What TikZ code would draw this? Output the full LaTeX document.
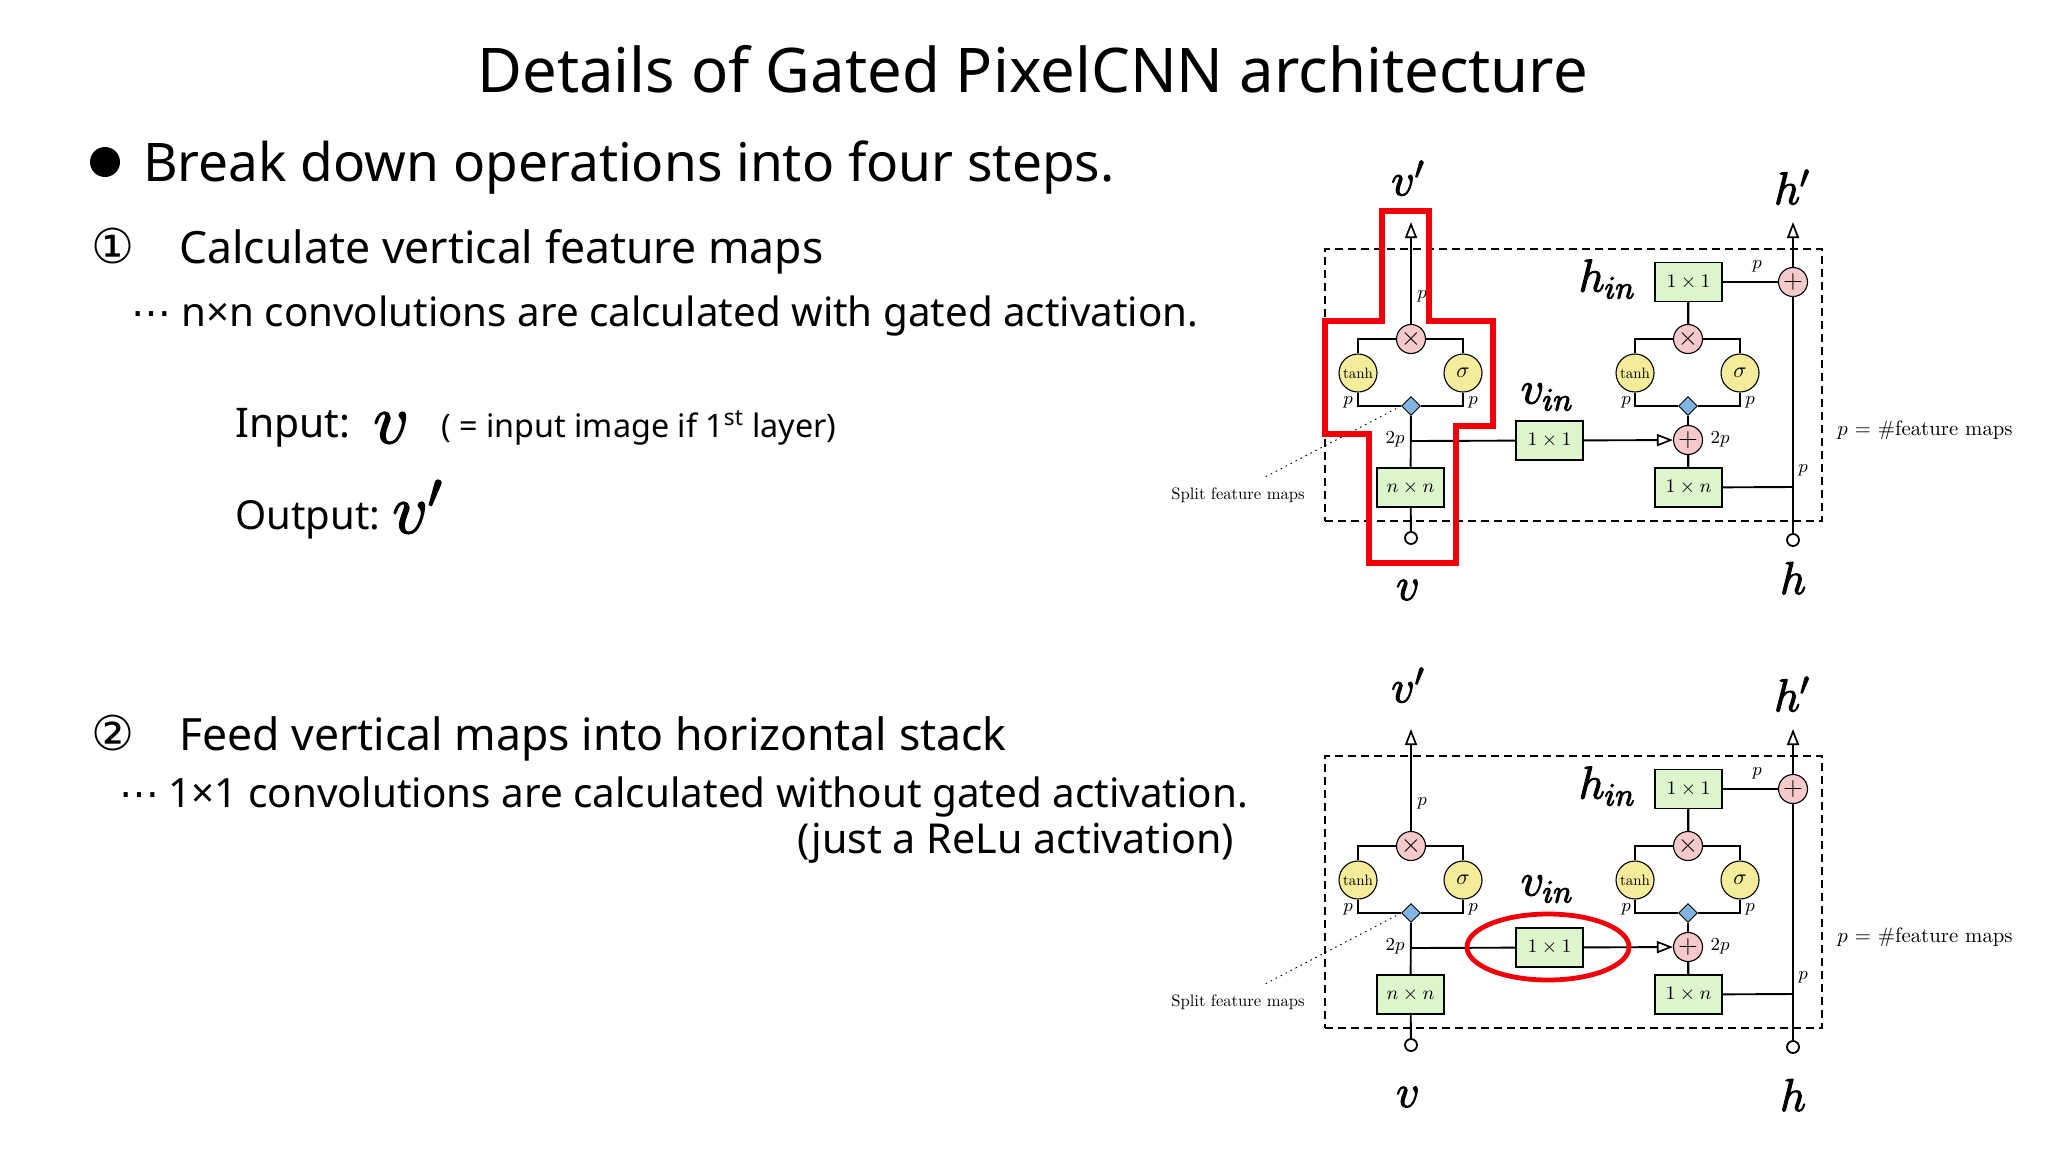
\RequirePackage{fix-cm}
\documentclass[tikz,border=0pt]{standalone}
\usepackage{fontspec}
\usetikzlibrary{shapes.geometric,arrows.meta}
\newfontfamily\slidefont{Noto Sans}
\newfontfamily\symfont{DejaVu Sans}
\definecolor{nodepink}{HTML}{F6C9CB}
\definecolor{nodeyellow}{HTML}{F3EC9A}
\definecolor{nodegreen}{HTML}{DDF5CC}
\definecolor{nodeblue}{HTML}{82B4E2}
\definecolor{markred}{HTML}{F00008}
\newcommand{\fsz}[1]{\fontsize{#1}{#1}\selectfont}
\newcommand{\heavy}[2][0.55]{\special{pdf:code q 2 Tr #1 w}#2\special{pdf:code Q}}
\tikzset{
  x=0.5pt,y=-0.5pt,
  wire/.style={draw=black,line width=0.95pt},
  txt/.style={anchor=base west,inner sep=0pt,font=\slidefont},
  opbox/.style={draw=black,line width=0.6pt,fill=nodegreen,minimum width=33.5pt,minimum height=19.5pt,inner sep=0pt,font=\fsz{9.6}},
  opcirc/.style={circle,draw=black,line width=0.55pt,fill=nodepink,minimum size=14.5pt,inner sep=0pt},
  gatecirc/.style={circle,draw=black,line width=0.55pt,fill=nodeyellow,minimum size=19pt,inner sep=0pt},
  splitd/.style={diamond,aspect=1,draw=black,line width=0.4pt,fill=nodeblue,minimum size=9.4pt,inner sep=0pt},
  termc/.style={circle,draw=black,line width=0.9pt,fill=white,minimum size=6pt,inner sep=0pt},
  lab/.style={inner sep=0pt,font=\fsz{9.2}},
  biglab/.style={inner sep=0pt,font=\fsz{23}},
  arrowup/.style={-{Triangle[open,fill=white,length=8pt,width=6pt,line width=0.85pt]}},
}
\newcommand{\gatedblock}[4]{%
  % #1 prefix, #2 y offset, #3 y of the h label, #4 y of the v_in label
  \begin{scope}[shift={(0,#2)}]
    \node[draw=black,line width=1.05pt,dash pattern=on 4.2pt off 2.3pt,minimum width=248.5pt,minimum height=136pt,inner sep=0pt] (#1frame) at (1573.5,385) {};
    % vertical stack
    \node[termc] (#1vin) at (1411,538) {};
    \node[opbox] (#1nn) at (1410.5,487.5) {$n\times n$};
    \coordinate (#1vj) at (1411,441);
    \node[splitd] (#1vd) at (1411,406) {};
    \node[gatecirc] (#1vt) at (1358,373) {\scalebox{0.75}{tanh}};
    \node[gatecirc,font=\fsz{11}] (#1vs) at (1463,373) {$\sigma$};
    \node[opcirc] (#1vm) at (1411,339) {\fsz{13}$\times$};
    \coordinate (#1vout) at (1411,222);
    % link
    \node[opbox] (#1link) at (1549.5,440.5) {$1\times 1$};
    % horizontal stack
    \node[opbox] (#1on) at (1688.5,487.5) {$1\times n$};
    \node[opcirc] (#1ha) at (1688,440) {\fsz{13}$+$};
    \node[splitd] (#1hd) at (1688,406) {};
    \node[gatecirc] (#1ht) at (1635,373) {\scalebox{0.75}{tanh}};
    \node[gatecirc,font=\fsz{11}] (#1hs) at (1740,373) {$\sigma$};
    \node[opcirc] (#1hm) at (1688,339) {\fsz{13}$\times$};
    \node[opbox] (#1oo) at (1688.5,282) {$1\times 1$};
    \node[opcirc] (#1hp) at (1793,282) {\fsz{13}$+$};
    \node[termc] (#1hin) at (1793,540) {};
    \coordinate (#1hj) at (1793,487);
    \coordinate (#1hout) at (1793,222);
    % connectors
    \draw[wire] (#1vin) -- (#1nn);
    \draw[wire] (#1nn) -- (#1vd);
    \draw[wire,line width=1.1pt] (#1vd.west) -| (#1vt.south);
    \draw[wire,line width=1.1pt] (#1vd.east) -| (#1vs.south);
    \draw[wire,line width=1.1pt] (#1vt.north) |- (#1vm.west);
    \draw[wire,line width=1.1pt] (#1vs.north) |- (#1vm.east);
    \draw[wire,arrowup] (#1vm) -- (#1vout);
    \draw[wire] (#1vj) -- (#1link);
    \draw[wire,-{Triangle[open,fill=white,length=8pt,width=6pt,line width=0.85pt]}] (#1link) -- (#1ha);
    \draw[wire,line width=1.1pt] (#1on) -- (#1ha);
    \draw[wire] (#1ha) -- (#1hd);
    \draw[wire,line width=1.1pt] (#1hd.west) -| (#1ht.south);
    \draw[wire,line width=1.1pt] (#1hd.east) -| (#1hs.south);
    \draw[wire,line width=1.1pt] (#1ht.north) |- (#1hm.west);
    \draw[wire,line width=1.1pt] (#1hs.north) |- (#1hm.east);
    \draw[wire,line width=1.1pt] (#1hm) -- (#1oo);
    \draw[wire] (#1oo) -- (#1hp);
    \draw[wire,line width=1.1pt] (#1hin) -- (#1hp);
    \draw[wire] (#1on) -- (#1hj);
    \draw[wire,arrowup] (#1hp) -- (#1hout);
    % dotted leader
    \coordinate (#1lead) at (1265,477);
    \draw[black,line width=0.45pt,dash pattern=on 0.8pt off 2pt] (#1vd.west) -- (#1lead);
    % labels
    \node[lab] (#1l1) at (1422,296) {$p$};
    \node[lab] (#1l2) at (1348,402) {$p$};
    \node[lab] (#1l3) at (1473,402) {$p$};
    \node[lab] (#1l4) at (1395,439) {$2p$};
    \node[lab] (#1l5) at (1626,402) {$p$};
    \node[lab] (#1l6) at (1750,402) {$p$};
    \node[lab] (#1l7) at (1757,266) {$p$};
    \node[lab] (#1l8) at (1720,439) {$2p$};
    \node[lab] (#1l9) at (1803,470) {$p$};
    \node[lab,font=\fsz{10}] (#1split) at (1238,495) {\scalebox{0.83}{Split feature maps}};
    \node[lab,font=\fsz{10.4}] (#1pdef) at (1925,430) {$p$ = \#feature maps};
    \node[biglab] (#1tv) at (1408,178) {\heavy{$v'$}};
    \node[biglab] (#1bv) at (1408,590) {\heavy{$v$}};
    \node[biglab] (#1th) at (1792,187) {\heavy{$h'$}};
    \node[biglab] (#1hl) at (1607,279) {\heavy{$h_{in}$}};
  \end{scope}
  \node[biglab] (#1vl) at (1547,#4) {\heavy{$v_{in}$}};
  \node[biglab] (#1bh) at (1793,#3) {\heavy{$h$}};
}
\begin{document}
\begin{tikzpicture}
\useasboundingbox (0,0) rectangle (2048,1152);
\fill[white] (0,0) rectangle (2048,1152);

\node[txt,font=\slidefont\fsz{30.8}] (title) at (477,92) {Details of Gated PixelCNN architecture};
\fill[black] (105,162) circle [radius=15];
\node[txt,font=\slidefont\fsz{26.6}] (s0) at (143,181) {Break down operations into four steps.};
\node[txt,font=\symfont\fsz{24}] (n1) at (91,263) {①};
\node[txt,font=\slidefont\fsz{22.25}] (s1) at (179,263) {Calculate vertical feature maps};
\node[txt,font=\symfont\fsz{20}] (d1) at (131,326) {⋯};
\node[txt,font=\slidefont\fsz{20.15}] (s2) at (181,326) {n×n convolutions are calculated with gated activation.};
\node[txt,font=\slidefont\fsz{20.4}] (in) at (235,437) {Input:};
\node[txt,font=\fsz{35}] (inv) at (373,443) {\heavy[0.8]{$v$}};
\node[txt,font=\slidefont\fsz{16.15}] (inn) at (441,437) {( = input image if 1\textsuperscript{st} layer)};
\node[txt,font=\slidefont\fsz{20}] (out) at (235,529) {Output:};
\node[txt,font=\fsz{35}] (outv) at (392,533) {\heavy[0.8]{$v'$}};
\node[txt,font=\symfont\fsz{24}] (n2) at (91,750) {②};
\node[txt,font=\slidefont\fsz{22.26}] (s3) at (179,750) {Feed vertical maps into horizontal stack};
\node[txt,font=\symfont\fsz{20}] (d2) at (119,807) {⋯};
\node[txt,font=\slidefont\fsz{20.2}] (s4) at (168,807) {1×1 convolutions are calculated without gated activation.};
\node[txt,font=\slidefont\fsz{20.6}] (s5) at (797,853) {(just a ReLu activation)};

\gatedblock{a}{0}{578}{397}
\gatedblock{b}{507}{1095}{889}

\draw[markred,line width=2.6pt,line join=miter] (1382,211) -- (1429,211) -- (1429,321) -- (1493,321) -- (1493,426) -- (1456,426) -- (1456,563) -- (1369,563) -- (1369,434) -- (1325,434) -- (1325,321) -- (1382,321) -- cycle;
\draw[markred,line width=2.4pt] (1548,947) ellipse [x radius=81,y radius=33];
\end{tikzpicture}
\end{document}
